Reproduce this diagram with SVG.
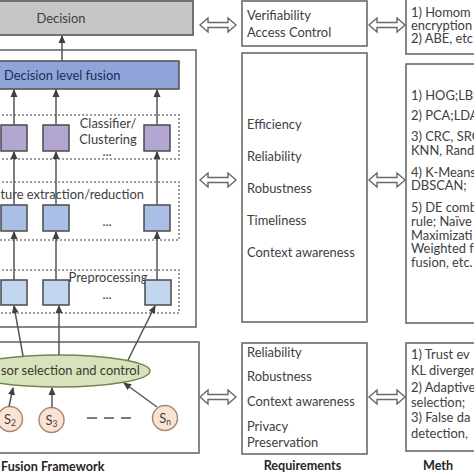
<svg xmlns="http://www.w3.org/2000/svg" width="474" height="474" viewBox="0 0 474 474">
<defs>
<marker id="ah" markerWidth="8" markerHeight="8" refX="7" refY="4" orient="auto" markerUnits="userSpaceOnUse">
<path d="M0,0.5 L8,4 L0,7.5 Z" fill="#404040"/>
</marker>
<path id="dbl" d="M0,0 L8,-7 L8,-2.5 L28,-2.5 L28,-7 L36,0 L28,7 L28,2.5 L8,2.5 L8,7 Z"/>
</defs>
<style>
text{font-family:Lato,"Liberation Sans",Arial,sans-serif;font-size:12.9px;fill:#404040}
.b{font-weight:bold;font-size:12.6px;fill:#262626}
.box{fill:#fff;stroke:#6a6a6a;stroke-width:1.6}
.dash{fill:none;stroke:#808080;stroke-width:1.5;stroke-dasharray:2,2}
.sq{stroke:#4a4a4a;stroke-width:1.5}
.cls{fill:#b4a6d2}
.fea{fill:#aabfe6}
.pre{fill:#c3d6ef}
.con{stroke:#555;stroke-width:1.5;fill:none;marker-end:url(#ah)}
.da{fill:#fff;stroke:#6a6a6a;stroke-width:1.4}
.sc{fill:#fbe3d3;stroke:#a88a74;stroke-width:1.5}
</style>

<g id="framework-box"><rect class="box" x="-10" y="50" width="206" height="277"/></g>
<g id="sensor-box"><rect class="box" x="-10" y="342" width="209" height="111"/></g>

<g id="decision">
<rect x="-10" y="1" width="203" height="34" fill="#c6c6c6" stroke="#707070" stroke-width="2"/>
<text x="61" y="23" text-anchor="middle">Decision</text>
</g>

<g id="decision-level-fusion">
<rect x="-10" y="61" width="189" height="28" fill="#8fa5da" stroke="#555" stroke-width="1.6"/>
<text x="4" y="80" style="fill:#1f2d57">Decision level fusion</text>
</g>

<g id="classifier-layer">
<rect class="dash" x="-10" y="115" width="189" height="44"/>
<text x="108" y="128" text-anchor="middle">Classifier/</text>
<text x="108" y="144" text-anchor="middle">Clustering</text>
<text x="107" y="156" text-anchor="middle">...</text>
<rect class="sq cls" x="1" y="125" width="26" height="26"/>
<rect class="sq cls" x="43" y="125" width="26" height="26"/>
<rect class="sq cls" x="144" y="125" width="26" height="26"/>
</g>

<g id="feature-layer">
<rect class="dash" x="-10" y="182" width="189" height="58"/>
<text x="0.5" y="199">ture extraction/reduction</text>
<text x="107" y="226" text-anchor="middle">...</text>
<rect class="sq fea" x="1" y="205" width="26" height="26"/>
<rect class="sq fea" x="43" y="205" width="26" height="26"/>
<rect class="sq fea" x="144" y="205" width="26" height="26"/>
</g>

<g id="preprocessing-layer">
<rect class="dash" x="-10" y="270" width="189" height="43"/>
<text x="108" y="282" text-anchor="middle">Preprocessing</text>
<text x="107" y="299" text-anchor="middle">...</text>
<rect class="sq pre" x="1" y="280" width="26" height="25"/>
<rect class="sq pre" x="43" y="280" width="26" height="25"/>
<rect class="sq pre" x="145" y="280" width="26" height="25"/>
</g>

<g id="sensor-control">
<ellipse cx="59" cy="371" rx="91" ry="16" fill="#d6e3bc" stroke="#74864a" stroke-width="1.5"/>
<text x="1" y="375" style="fill:#3a3a2a">sor selection and control</text>
</g>

<g id="sensor-s2"><circle class="sc" cx="10" cy="419" r="12.5"/><text x="10" y="423.5" text-anchor="middle">S<tspan font-size="8.5" dy="2">2</tspan></text></g>
<g id="sensor-s3"><circle class="sc" cx="51.5" cy="420" r="12.5"/><text x="51.5" y="424.5" text-anchor="middle">S<tspan font-size="8.5" dy="2">3</tspan></text></g>
<g id="sensor-sn"><circle class="sc" cx="165" cy="418" r="12.5"/><text x="165" y="422.5" text-anchor="middle">S<tspan font-size="8.5" dy="2">n</tspan></text></g>
<line x1="87" y1="418" x2="135" y2="418" stroke="#7a7a7a" stroke-width="2" stroke-dasharray="10,7"/>

<g id="connectors">
<line class="con" x1="62" y1="61" x2="62" y2="36"/>
<line class="con" x1="14" y1="125" x2="14" y2="90"/>
<line class="con" x1="56" y1="125" x2="56" y2="90"/>
<line class="con" x1="157" y1="125" x2="157" y2="90"/>
<line class="con" x1="14" y1="205" x2="14" y2="152"/>
<line class="con" x1="56" y1="205" x2="56" y2="152"/>
<line class="con" x1="157" y1="205" x2="157" y2="152"/>
<line class="con" x1="14" y1="280" x2="14" y2="232"/>
<line class="con" x1="56" y1="280" x2="56" y2="232"/>
<line class="con" x1="157" y1="280" x2="157" y2="232"/>
<line class="con" x1="23" y1="356" x2="14" y2="306"/>
<line class="con" x1="59" y1="355" x2="59" y2="306"/>
<line class="con" x1="128" y1="360" x2="155" y2="306"/>
<line class="con" x1="9" y1="406.5" x2="13" y2="388"/>
<line class="con" x1="52" y1="407.5" x2="52" y2="388"/>
<line class="con" x1="157" y1="407" x2="124" y2="383"/>
<use href="#dbl" class="da" x="200" y="25"/>
<use href="#dbl" class="da" x="200" y="180"/>
<use href="#dbl" class="da" x="200" y="397"/>
<use href="#dbl" class="da" x="369" y="25"/>
<use href="#dbl" class="da" x="369" y="180"/>
<use href="#dbl" class="da" x="369" y="397"/>
</g>

<g id="req-security">
<rect class="box" x="242" y="1" width="125" height="45"/>
<text x="247" y="20">Verifiability</text>
<text x="247" y="37">Access Control</text>
</g>
<g id="req-fusion">
<rect class="box" x="242" y="53" width="125" height="269"/>
<text x="247" y="129">Efficiency</text>
<text x="247" y="161">Reliability</text>
<text x="247" y="193">Robustness</text>
<text x="247" y="225">Timeliness</text>
<text x="247" y="257">Context awareness</text>
</g>
<g id="req-sensor">
<rect class="box" x="242" y="343" width="125" height="111"/>
<text x="247" y="357">Reliability</text>
<text x="247" y="381">Robustness</text>
<text x="247" y="406">Context awareness</text>
<text x="247" y="431">Privacy</text>
<text x="247" y="447">Preservation</text>
</g>

<g id="methods-security">
<rect class="box" x="406" y="-2" width="80" height="56"/>
<text x="411" y="17">1) Homom</text>
<text x="411" y="30">encryption</text>
<text x="411" y="43">2) ABE, etc</text>
</g>
<g id="methods-fusion">
<rect class="box" x="406" y="64" width="80" height="259"/>
<text x="411" y="100">1) HOG;LBP</text>
<text x="411" y="120">2) PCA;LDA</text>
<text x="411" y="141">3) CRC, SRC</text>
<text x="411" y="155">KNN, Rand</text>
<text x="411" y="177">4) K-Means</text>
<text x="411" y="190">DBSCAN;</text>
<text x="411" y="212">5) DE comb</text>
<text x="411" y="226">rule; Naïve</text>
<text x="411" y="240">Maximizati</text>
<text x="411" y="253">Weighted f</text>
<text x="411" y="267">fusion, etc.</text>
</g>
<g id="methods-sensor">
<rect class="box" x="406" y="343" width="80" height="108"/>
<text x="411" y="359">1) Trust ev</text>
<text x="411" y="375">KL divergen</text>
<text x="411" y="392">2) Adaptive</text>
<text x="411" y="407">selection;</text>
<text x="411" y="422">3) False da</text>
<text x="411" y="438">detection,</text>
</g>

<text class="b" x="1" y="471">Fusion Framework</text>
<text class="b" x="302.5" y="470" text-anchor="middle">Requirements</text>
<text class="b" x="423" y="470">Meth</text>
</svg>
